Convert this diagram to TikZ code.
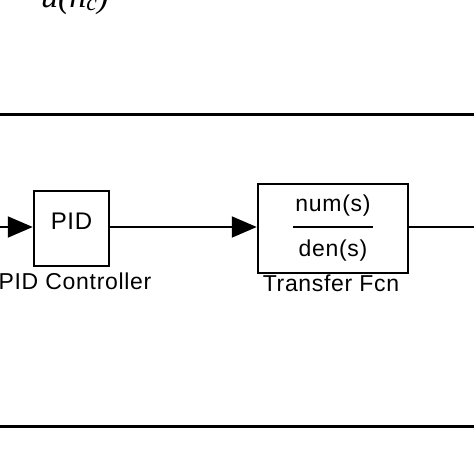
\documentclass[tikz,border=0pt]{standalone}
\usepackage{fontspec}
\setmainfont{Liberation Sans}[LetterSpace=3]
\newfontfamily\serifrm{Liberation Serif}
\usetikzlibrary{arrows.meta}

\tikzset{every path/.style={line width=2pt}}
\tikzset{
  block/.style={rectangle,draw,line width=2.5pt,inner sep=0pt},
  lbl/.style={inner sep=0pt,anchor=base,font=\fontsize{23}{27}\selectfont},
  sig/.style={-{Triangle[length=25pt,width=21pt]}}
}

\begin{document}
\begin{tikzpicture}[x=1pt,y=-1pt]
    \useasboundingbox (0,0) rectangle (474,474);
    % top part of the figure, cut off
    \node[inner sep=0pt,anchor=base west,font=\fontsize{34}{40}\serifrm\itshape] (sig) at (40,7) {u(n\textsubscript{c})};
    \draw[line width=2.5pt] (0,114.5) -- (474,114.5);
    \draw[line width=2.5pt] (0,426.5) -- (474,426.5);
    % blocks
    \node[block,minimum width=75pt,minimum height=75pt] (pid) at (71.5,228.5) {};
    \node[lbl,font=\fontsize{24}{28}\selectfont] (pidtxt) at (71.5,229) {PID};
    \node[lbl] (pidname) at (75,289) {PID Controller};
    \node[block,minimum width=150pt,minimum height=89pt] (tf) at (333,228.5) {};
    \node[lbl] (num) at (333,211) {num(s)};
    \node[lbl] (den) at (333,256) {den(s)};
    \coordinate (barL) at (293,227);
    \coordinate (barR) at (373,227);
    \draw (barL) -- (barR);
    \node[lbl] (tfname) at (331,291) {Transfer Fcn};
    % signals
    \coordinate (in) at (0,227);
    \coordinate (out) at (474,227);
    \draw[sig] (in) -- (pid.west |- in);
    \draw[sig] (pid.east |- in) -- (tf.west |- in);
    \draw (tf.east |- out) -- (out);
\end{tikzpicture}
\end{document}
